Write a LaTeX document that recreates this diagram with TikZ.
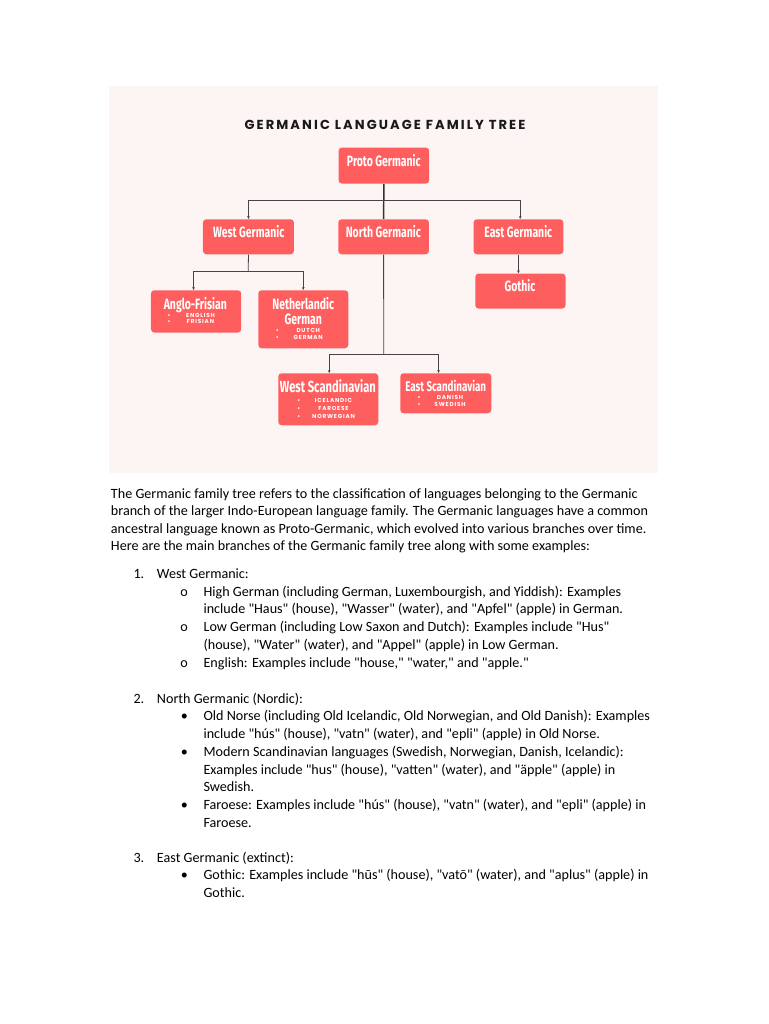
\documentclass[tikz,border=0pt]{standalone}
\usepackage{fontspec}
\setmainfont{Carlito}[Ligatures=TeXOff]
\newfontfamily\titlefont[LetterSpace=16]{Poppins}
\newfontfamily\boxfont[FakeStretch=0.70]{Fira Sans}
\newfontfamily\itemfont[LetterSpace=14]{Poppins}
\usepackage{tikz}
\usetikzlibrary{arrows.meta}
\usepackage{color}

\definecolor{panelpink}{HTML}{FDF5F3}
\definecolor{boxred}{HTML}{FF5E5E}
\definecolor{linegray}{HTML}{454545}

\tikzset{
    langbox/.style={anchor=north west,fill=boxred,rounded corners=2.5pt,inner sep=0pt},
    boxtitle/.style={text=white,inner sep=0pt,text height=7.7pt,text depth=0pt,
        font=\boxfont\bfseries\fontsize{11.2}{12}\selectfont},
    itemtext/.style={text=white,inner sep=0pt,text height=3pt,text depth=0pt,
        font=\itemfont\bfseries\fontsize{4.3}{5}\selectfont},
    bodytext/.style={anchor=west,inner sep=0pt,text height=6.8pt,text depth=0pt,
        font=\fontsize{10.6}{13}\selectfont},
    branch/.style={draw=linegray,line width=0.6pt,-{Stealth[length=2.2pt,width=2pt]}},
}

\begin{document}
\begin{tikzpicture}[x=0.75pt,y=-0.75pt]
    \fill[white] (0,0) rectangle (768,1024);
    \useasboundingbox (0,0) rectangle (768,1024);

    % tree panel
    \fill[panelpink] (109.3,85.7) rectangle (657.7,473.3);
    \node[inner sep=0pt,text height=6.8pt,text depth=0pt,text=black!90,
        font=\titlefont\bfseries\fontsize{9.8}{11}\selectfont] (title) at (385,125) {GERMANIC LANGUAGE FAMILY TREE};

    % boxes
    \node[langbox,minimum width=68pt,minimum height=27pt] (proto) at (338.3,147.3) {};
    \node[langbox,minimum width=68.25pt,minimum height=26.25pt] (west) at (202.7,219) {};
    \node[langbox,minimum width=68pt,minimum height=26.25pt] (north) at (338,219) {};
    \node[langbox,minimum width=67.3pt,minimum height=26.25pt] (east) at (473.3,219) {};
    \node[langbox,minimum width=67.7pt,minimum height=26.25pt] (gothic) at (475,273.3) {};
    \node[langbox,minimum width=67.7pt,minimum height=31.7pt] (anglo) at (150.7,290) {};
    \node[langbox,minimum width=67.5pt,minimum height=43.5pt] (neth) at (258,290) {};
    \node[langbox,minimum width=75pt,minimum height=39pt] (wscand) at (278,373) {};
    \node[langbox,minimum width=68.25pt,minimum height=30pt] (escand) at (400,373) {};

    % box titles
    \node[boxtitle] (proto-t) at (383.8,161.3) {Proto Germanic};
    \node[boxtitle] (west-t) at (248.7,232.3) {West Germanic};
    \node[boxtitle] (north-t) at (383.3,232.3) {North Germanic};
    \node[boxtitle] (east-t) at (518.3,232.3) {East Germanic};
    \node[boxtitle] (gothic-t) at (520,286.7) {Gothic};
    \node[boxtitle] (anglo-t) at (195.3,304) {Anglo-Frisian};
    \node[boxtitle] (neth-t1) at (303.3,304) {Netherlandic};
    \node[boxtitle] (neth-t2) at (303.3,319.3) {German};
    \node[boxtitle,font=\boxfont\bfseries\fontsize{12}{12}\selectfont] (wscand-t) at (327.9,387.7) {West Scandinavian};
    \node[boxtitle,font=\boxfont\bfseries\fontsize{10.5}{12}\selectfont] (escand-t) at (445.7,386.7) {East Scandinavian};

    % box items
    \foreach \bx/\tx/\y/\lang in {169/200.5/315/ENGLISH, 169/200.5/321.7/FRISIAN,
        277.3/308.2/330.7/DUTCH, 277.3/308.2/337.7/GERMAN,
        298.7/333.5/400.7/ICELANDIC, 298.7/333.5/408.3/FAROESE, 298.7/333.5/416/NORWEGIAN,
        419/450/397.7/DANISH, 419/450/404.7/SWEDISH}{
        \node[itemtext] (dot-\lang) at (\bx,\y) {\textbullet};
        \node[itemtext] (item-\lang) at (\tx,\y) {\lang};
    }

    % connectors
    \coordinate (pg-split) at (383.7,200.3);
    \coordinate (wg-split) at (248.2,271.7);
    \coordinate (ng-split) at (383.7,354);
    \draw[draw=black!80,line width=1.1pt] (proto.south) -- (north.north);
    \draw[branch] (pg-split) -| (west.north);
    \draw[branch] (pg-split) -| ([xshift=1.3pt]east.north);
    \draw[draw=linegray,line width=0.6pt] (west.south) -- (wg-split);
    \draw[branch] (wg-split) -| ([xshift=-1.9pt]anglo.north);
    \draw[branch] (wg-split) -| (neth.north);
    \draw[draw=linegray,line width=0.6pt] (north.south) -- (ng-split);
    \draw[branch] (ng-split) -| ([xshift=0.7pt]wscand.north);
    \draw[branch] (ng-split) -| ([xshift=-5.4pt]escand.north);
    \draw[branch] (east.south) -- (east.south |- gothic.north);

    % text below the panel
    \node[bodytext] (p1) at (110.7,493.5) {The Germanic family tree refers to the classification of languages belonging to the Germanic};
    \node[bodytext] (p2) at (110.7,511) {branch of the larger Indo-European language family. The Germanic languages have a common};
    \node[bodytext] (p3) at (110.7,528.5) {ancestral language known as Proto-Germanic, which evolved into various branches over time.};
    \node[bodytext] (p4) at (110.7,546) {Here are the main branches of the Germanic family tree along with some examples:};

    \node[bodytext] (n1) at (133.3,573.5) {1.};
    \node[bodytext] (w0) at (156.7,573.5) {West Germanic:};
    \node[bodytext] (w1-o) at (180,591.5) {o};
    \node[bodytext] (w1a) at (203.3,591.5) {High German (including German, Luxembourgish, and Yiddish): Examples};
    \node[bodytext] (w1b) at (203.3,609) {include "Haus" (house), "Wasser" (water), and "Apfel" (apple) in German.};
    \node[bodytext] (w2-o) at (180,627) {o};
    \node[bodytext] (w2a) at (203.3,627) {Low German (including Low Saxon and Dutch): Examples include "Hus"};
    \node[bodytext] (w2b) at (203.3,645) {(house), "Water" (water), and "Appel" (apple) in Low German.};
    \node[bodytext] (w3-o) at (180,662.5) {o};
    \node[bodytext] (w3a) at (203.3,662.5) {English: Examples include "house," "water," and "apple."};

    \node[bodytext] (n2) at (133.3,699) {2.};
    \node[bodytext] (g0) at (156.7,699) {North Germanic (Nordic):};
    \node[bodytext] (g1-b) at (180.5,716) {•};
    \node[bodytext] (g1a) at (203.3,716) {Old Norse (including Old Icelandic, Old Norwegian, and Old Danish): Examples};
    \node[bodytext] (g1b) at (203.3,733.5) {include "hús" (house), "vatn" (water), and "epli" (apple) in Old Norse.};
    \node[bodytext] (g2-b) at (180.5,751.5) {•};
    \node[bodytext] (g2a) at (203.3,751.5) {Modern Scandinavian languages (Swedish, Norwegian, Danish, Icelandic):};
    \node[bodytext] (g2b) at (203.3,769.5) {Examples include "hus" (house), "vatten" (water), and "äpple" (apple) in};
    \node[bodytext] (g2c) at (203.3,787) {Swedish.};
    \node[bodytext] (g3-b) at (180.5,805) {•};
    \node[bodytext] (g3a) at (203.3,805) {Faroese: Examples include "hús" (house), "vatn" (water), and "epli" (apple) in};
    \node[bodytext] (g3b) at (203.3,822.5) {Faroese.};

    \node[bodytext] (n3) at (133.3,857.5) {3.};
    \node[bodytext] (e0) at (156.7,857.5) {East Germanic (extinct):};
    \node[bodytext] (e1-b) at (180.5,875) {•};
    \node[bodytext] (e1a) at (203.3,875) {Gothic: Examples include "hūs" (house), "vatō" (water), and "aplus" (apple) in};
    \node[bodytext] (e1b) at (203.3,892.5) {Gothic.};
\end{tikzpicture}
\end{document}
